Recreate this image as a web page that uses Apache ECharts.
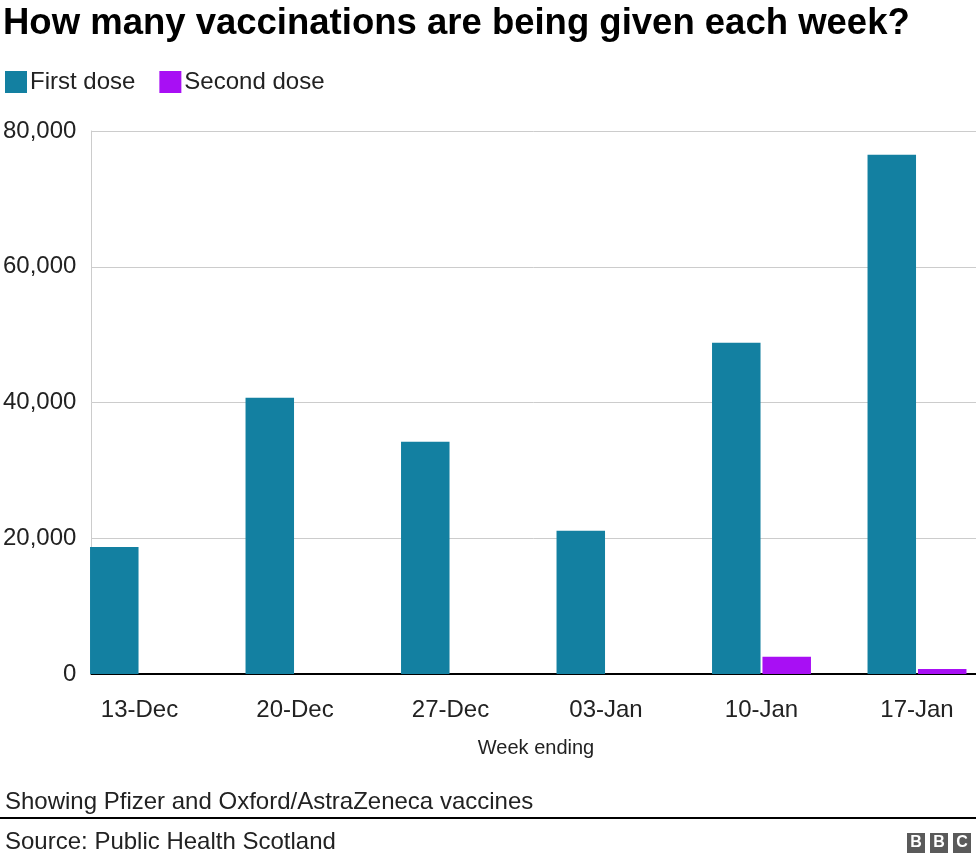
<!DOCTYPE html>
<html>
<head>
<meta charset="utf-8">
<script src="https://cdn.jsdelivr.net/npm/echarts@6/dist/echarts.min.js"></script>
<style>
  html, body { margin: 0; padding: 0; background: #fff; }
  #chart { width: 976px; height: 861px; }
</style>
</head>
<body>
<div id="chart"></div>
<script>
// data
const weeks = ['13-Dec', '20-Dec', '27-Dec', '03-Jan', '10-Jan', '17-Jan'];
const firstDose = [18700, 40700, 34200, 21100, 48800, 76500];
const secondDose = [0, 0, 0, 0, 2550, 750];
const yTicks = [0, 20000, 40000, 60000, 80000];

const font = 'Liberation Sans, Arial, sans-serif';
const teal = '#1380a1';
const purple = '#a80ff4';

const chart = echarts.init(document.getElementById('chart'));

const option = {
  animation: false,
  textStyle: { fontFamily: font },
  title: [
    { text: 'How many vaccinations are being given each week?', left: -2, top: 0,
      textStyle: { fontSize: 36.5, fontWeight: 'bold', color: '#000', fontFamily: font } },
    { text: 'Week ending', left: 531, top: 733, textAlign: 'center',
      textStyle: { fontSize: 20, fontWeight: 'normal', color: '#222', fontFamily: font } },
    { text: 'Showing Pfizer and Oxford/AstraZeneca vaccines', left: 0, top: 785,
      textStyle: { fontSize: 24, fontWeight: 'normal', color: '#222', fontFamily: font } },
    { text: 'Source: Public Health Scotland', left: 0, top: 825,
      textStyle: { fontSize: 24, fontWeight: 'normal', color: '#222', fontFamily: font } }
  ],
  legend: {
    left: 0, top: 65, itemWidth: 22, itemHeight: 22, itemGap: 24,
    icon: 'rect',
    textStyle: { fontSize: 24, color: '#222', fontFamily: font, padding: [0, 0, 0, -2] },
    data: ['First dose', 'Second dose']
  },
  // grid 0 carries the y axis, grid lines and baseline; grid 1 carries the bars and labels
  // (grid 1 runs past the right edge, as the original is cropped there)
  grid: [
    { left: 89, right: 0, top: 131, bottom: 187 },
    { left: 61.75, width: 933, top: 131, bottom: 187, outerBoundsMode: 'none', containLabel: false }
  ],
  xAxis: [
    { type: 'category', gridIndex: 0, data: weeks, boundaryGap: true,
      axisLine: { show: true, lineStyle: { color: '#000', width: 2 } },
      axisTick: { show: false }, axisLabel: { show: false } },
    { type: 'category', gridIndex: 1, data: weeks,
      axisLine: { show: false }, axisTick: { show: false },
      axisLabel: { fontSize: 24, color: '#222', margin: 24, fontFamily: font } }
  ],
  yAxis: [
    { type: 'value', gridIndex: 0, min: 0, max: 80000, interval: 20000,
      axisLine: { show: true, lineStyle: { color: '#cccccc', width: 1 } },
      axisTick: { show: false },
      splitLine: { lineStyle: { color: '#cccccc', width: 1 } },
      axisLabel: { fontSize: 24, color: '#222', margin: 15, fontFamily: font,
        formatter: v => yTicks.includes(v) ? v.toLocaleString('en-GB') : '' } },
    { type: 'value', gridIndex: 1, min: 0, max: 80000, show: false }
  ],
  series: [
    { name: 'First dose', type: 'bar', xAxisIndex: 1, yAxisIndex: 1,
      data: firstDose, barWidth: 48.5, barGap: '4%',
      itemStyle: { color: teal }, z: 3 },
    { name: 'Second dose', type: 'bar', xAxisIndex: 1, yAxisIndex: 1,
      data: secondDose, barWidth: 48.5, barGap: '4%',
      itemStyle: { color: purple }, z: 3 }
  ],
  graphic: [
    { type: 'line', shape: { x1: 0, y1: 818, x2: 976, y2: 818 },
      style: { stroke: '#000', lineWidth: 2 } },
    { type: 'group', left: 907, top: 833, children: [
      { type: 'rect', shape: { x: 0, y: 0, width: 18, height: 20 }, style: { fill: '#5a5a5a' } },
      { type: 'rect', shape: { x: 23, y: 0, width: 18, height: 20 }, style: { fill: '#5a5a5a' } },
      { type: 'rect', shape: { x: 46, y: 0, width: 18, height: 20 }, style: { fill: '#5a5a5a' } },
      { type: 'text', x: 9, y: 10, style: { text: 'B', fill: '#fff', font: 'bold 16px ' + font, align: 'center', verticalAlign: 'middle' } },
      { type: 'text', x: 32, y: 10, style: { text: 'B', fill: '#fff', font: 'bold 16px ' + font, align: 'center', verticalAlign: 'middle' } },
      { type: 'text', x: 55, y: 10, style: { text: 'C', fill: '#fff', font: 'bold 16px ' + font, align: 'center', verticalAlign: 'middle' } }
    ] }
  ]
};

chart.setOption(option);
</script>
</body>
</html>
